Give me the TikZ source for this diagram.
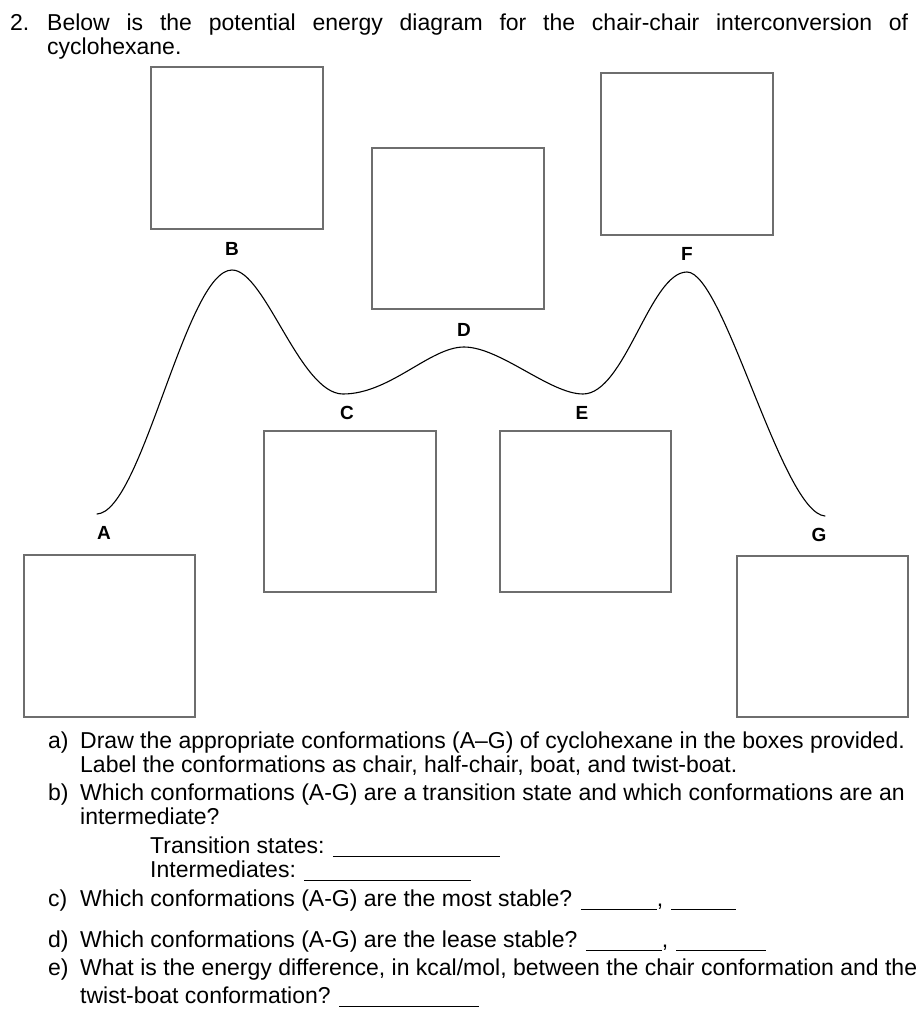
\documentclass[tikz,border=0pt]{standalone}
\usepackage{fontspec}
\setmainfont{Liberation Sans}
\definecolor{boxgray}{HTML}{6E6E6E}
\newcommand{\blank}[1]{\rule[-4pt]{#1pt}{1.1pt}}
\begin{document}
\begin{tikzpicture}[x=1pt,y=-1pt,
  ansbox/.style={draw=boxgray,line width=1.6pt,inner sep=0pt},
  lbl/.style={font=\fontsize{19}{19}\selectfont\bfseries,inner sep=0pt},
  txt/.style={anchor=base west,inner sep=0pt,font=\fontsize{23}{26}\selectfont},
  curve/.style={line width=1.1pt,line cap=round}]
\useasboundingbox (0,0) rectangle (918,1024);
% question header
\node[txt] (n2) at (10,31) {2.};
\node[txt] (l1) at (47,31) {\makebox[861pt][s]{Below is the potential energy diagram for the chair-chair interconversion of}};
\node[txt] (l2) at (47,55) {cyclohexane.};
% boxes
\node[ansbox,minimum width=171pt,minimum height=162pt] (boxA) at (109.5,636) {};
\node[ansbox,minimum width=172pt,minimum height=162pt] (boxB) at (237,148) {};
\node[ansbox,minimum width=172pt,minimum height=161pt] (boxC) at (350,511.5) {};
\node[ansbox,minimum width=172pt,minimum height=161pt] (boxD) at (458,228.5) {};
\node[ansbox,minimum width=171pt,minimum height=161pt] (boxE) at (585.5,511.5) {};
\node[ansbox,minimum width=172pt,minimum height=162pt] (boxF) at (687,154) {};
\node[ansbox,minimum width=171pt,minimum height=161pt] (boxG) at (822.5,636.5) {};
% energy curve
\coordinate (pA) at (97,514);
\coordinate (pB) at (232,270);
\coordinate (pC) at (343,394);
\coordinate (pD) at (464,347);
\coordinate (pE) at (583,394);
\coordinate (pF) at (687,272);
\coordinate (pG) at (825,516);
\draw[curve] (pA) .. controls (142,512) and (186,270) .. (pB)
  .. controls (265,270) and (300,394) .. (pC)
  .. controls (390,394) and (430,347) .. (pD)
  .. controls (500,347) and (550,394) .. (pE)
  .. controls (625,394) and (650,272) .. (pF)
  .. controls (724,272) and (782,513) .. (pG);
% labels
\node[lbl] (tA) at (104,533) {A};
\node[lbl] (tB) at (232,249) {B};
\node[lbl] (tC) at (347,413) {C};
\node[lbl] (tD) at (464,330) {D};
\node[lbl] (tE) at (582,413) {E};
\node[lbl] (tF) at (687,254) {F};
\node[lbl] (tG) at (819,535) {G};
% questions
\node[txt] (qa) at (48,748) {a)};
\node[txt] (qa1) at (80,748) {Draw the appropriate conformations (A–G) of cyclohexane in the boxes provided.};
\node[txt] (qa2) at (80,772) {Label the conformations as chair, half-chair, boat, and twist-boat.};
\node[txt] (qb) at (48,800) {b)};
\node[txt] (qb1) at (80,800) {Which conformations (A-G) are a transition state and which conformations are an};
\node[txt] (qb2) at (80,824) {intermediate?};
\node[txt] (qb3) at (150,853) {Transition states: \blank{167}};
\node[txt] (qb4) at (150,877) {Intermediates: \blank{167}};
\node[txt] (qc) at (48,906) {c)};
\node[txt] (qc1) at (80,906) {Which conformations (A-G) are the most stable? \blank{76},\hspace{8pt}\blank{65}};
\node[txt] (qd) at (48,947) {d)};
\node[txt] (qd1) at (80,947) {Which conformations (A-G) are the lease stable? \blank{76},\hspace{8pt}\blank{90}};
\node[txt] (qe) at (48,975) {e)};
\node[txt] (qe1) at (80,975) {What is the energy difference, in kcal/mol, between the chair conformation and the};
\node[txt] (qe2) at (80,1003) {twist-boat conformation? \blank{140}};
\end{tikzpicture}
\end{document}
